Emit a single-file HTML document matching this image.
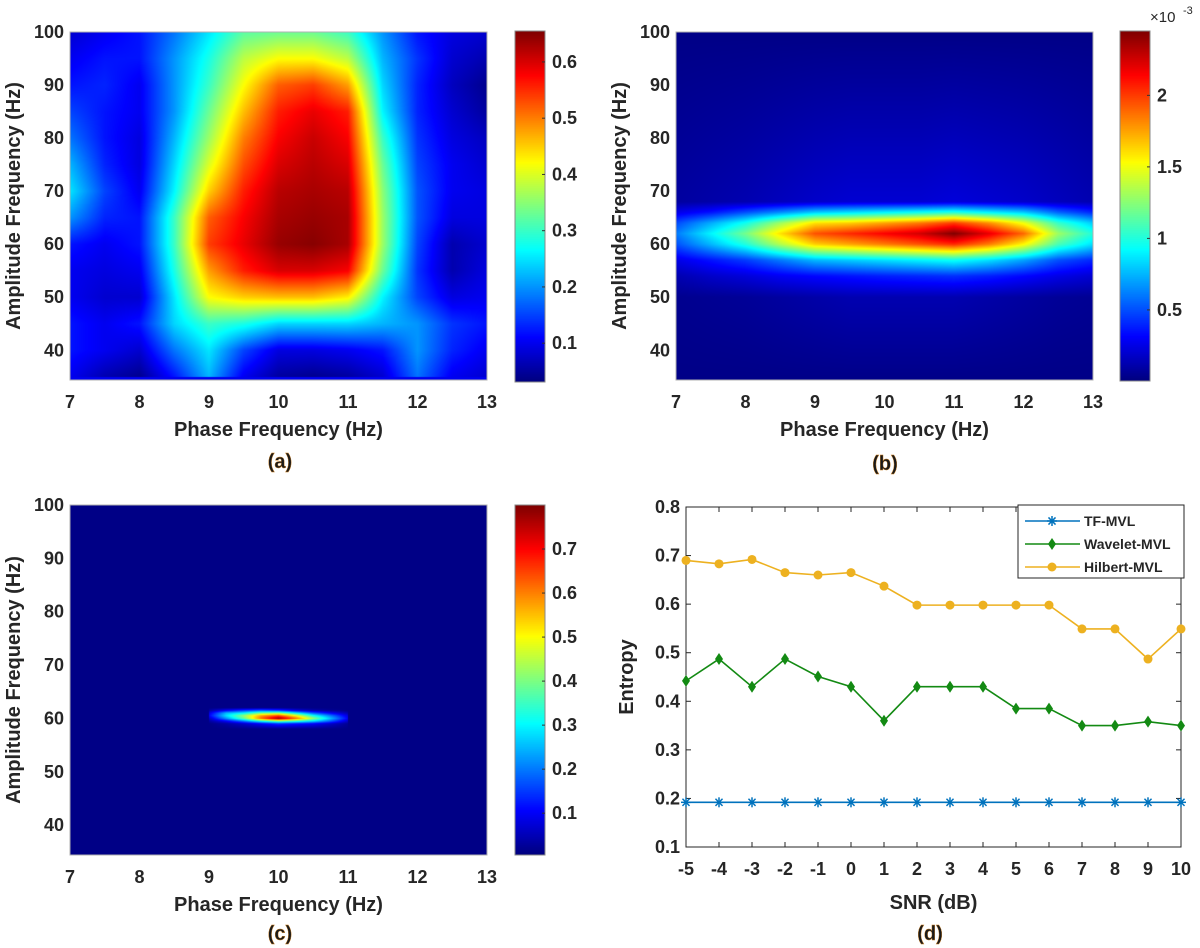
<!DOCTYPE html>
<html><head><meta charset="utf-8">
<style>
html,body{margin:0;padding:0;background:#fff;}
#wrap{position:relative;width:1200px;height:948px;overflow:hidden;font-family:"Liberation Sans",sans-serif;}
canvas{position:absolute;}
svg{position:absolute;left:0;top:0;}
</style></head>
<body>
<div id="wrap">
<canvas id="ca" width="417" height="348" style="left:70px;top:32px"></canvas>
<canvas id="cba" width="30" height="351" style="left:515px;top:31px"></canvas>
<canvas id="cb" width="417" height="348" style="left:676px;top:32px"></canvas>
<canvas id="cbb" width="30" height="350" style="left:1120px;top:31px"></canvas>
<canvas id="cc" width="417" height="350" style="left:70px;top:505px"></canvas>
<canvas id="cbc" width="30" height="350" style="left:515px;top:505px"></canvas>
<svg id="s" width="1200" height="948"></svg>
</div>
<script>
// ---------- data ----------
const aX=[7,7.5,8,8.5,9,9.5,10,10.5,11,11.5,12,12.5,13];
const aY=[100,95,90,85,80,75,70,65,60,55,50,45,40,35];
const aV=[
[0.08,0.10,0.12,0.18,0.25,0.32,0.33,0.33,0.30,0.20,0.12,0.09,0.08],
[0.10,0.12,0.12,0.20,0.28,0.38,0.42,0.42,0.38,0.22,0.14,0.08,0.06],
[0.12,0.13,0.10,0.20,0.30,0.42,0.52,0.54,0.48,0.24,0.13,0.07,0.04],
[0.15,0.12,0.10,0.20,0.33,0.46,0.56,0.59,0.56,0.26,0.13,0.08,0.05],
[0.18,0.12,0.09,0.22,0.36,0.50,0.58,0.61,0.58,0.30,0.14,0.09,0.07],
[0.22,0.13,0.09,0.24,0.40,0.53,0.60,0.62,0.60,0.33,0.15,0.10,0.08],
[0.25,0.15,0.10,0.26,0.45,0.56,0.62,0.63,0.62,0.35,0.16,0.10,0.09],
[0.20,0.13,0.12,0.30,0.52,0.58,0.63,0.64,0.63,0.36,0.16,0.09,0.09],
[0.12,0.10,0.12,0.30,0.54,0.59,0.64,0.65,0.63,0.36,0.15,0.06,0.08],
[0.10,0.09,0.10,0.28,0.48,0.56,0.60,0.60,0.58,0.33,0.14,0.06,0.09],
[0.10,0.08,0.08,0.25,0.42,0.45,0.46,0.46,0.43,0.26,0.15,0.09,0.10],
[0.12,0.10,0.12,0.24,0.30,0.28,0.24,0.24,0.24,0.22,0.20,0.14,0.12],
[0.12,0.10,0.08,0.18,0.25,0.15,0.09,0.09,0.10,0.12,0.20,0.13,0.10],
[0.10,0.06,0.04,0.12,0.22,0.10,0.05,0.04,0.05,0.08,0.18,0.10,0.08]];
const bX=[7,7.5,8,8.5,9,9.5,10,10.5,11,11.5,12,12.5,13];
const bY=[100,68,66,64,62,60,57,54,50,34];
const bV=[
[0.02,0.02,0.02,0.02,0.02,0.02,0.02,0.02,0.02,0.02,0.02,0.02,0.02],
[0.08,0.10,0.12,0.15,0.18,0.20,0.20,0.20,0.22,0.20,0.18,0.15,0.12],
[0.25,0.35,0.50,0.65,0.80,0.85,0.90,0.95,1.00,0.90,0.80,0.55,0.40],
[0.48,0.72,0.96,1.30,1.60,1.65,1.75,1.85,2.00,1.80,1.50,1.05,0.80],
[0.60,0.90,1.20,1.60,1.95,2.05,2.15,2.25,2.45,2.20,1.90,1.30,1.00],
[0.50,0.75,1.00,1.35,1.65,1.75,1.85,1.95,2.05,1.85,1.55,1.10,0.85],
[0.25,0.35,0.45,0.60,0.75,0.80,0.85,0.90,0.95,0.85,0.70,0.50,0.40],
[0.12,0.18,0.22,0.28,0.32,0.35,0.38,0.40,0.42,0.38,0.32,0.25,0.20],
[0.04,0.05,0.06,0.08,0.10,0.12,0.12,0.12,0.12,0.10,0.08,0.06,0.05],
[0.02,0.02,0.02,0.02,0.02,0.02,0.02,0.02,0.02,0.02,0.02,0.02,0.02]];
const cX=[9,9.25,9.5,9.75,10,10.25,10.5,10.75,11];
const cY=[62,61.5,61,60.5,60,59.5,59,58];
const cV=[
[0.01,0.01,0.01,0.01,0.01,0.01,0.01,0.01,0.01],
[0.03,0.10,0.15,0.18,0.15,0.08,0.04,0.02,0.01],
[0.08,0.25,0.30,0.40,0.42,0.30,0.18,0.10,0.04],
[0.10,0.28,0.42,0.58,0.65,0.50,0.32,0.20,0.08],
[0.06,0.22,0.38,0.62,0.78,0.62,0.42,0.25,0.10],
[0.03,0.10,0.20,0.32,0.40,0.35,0.28,0.18,0.06],
[0.01,0.03,0.06,0.10,0.14,0.12,0.10,0.06,0.02],
[0.01,0.01,0.01,0.01,0.01,0.01,0.01,0.01,0.01]];
const snr=[-5,-4,-3,-2,-1,0,1,2,3,4,5,6,7,8,9,10];
const tfMVL=[0.192,0.192,0.192,0.192,0.192,0.192,0.192,0.192,0.192,0.192,0.192,0.192,0.192,0.192,0.192,0.192];
const waveletMVL=[0.442,0.487,0.43,0.487,0.451,0.43,0.36,0.43,0.43,0.43,0.385,0.385,0.35,0.35,0.358,0.35];
const hilbertMVL=[0.69,0.683,0.692,0.665,0.66,0.665,0.637,0.598,0.598,0.598,0.598,0.598,0.549,0.549,0.487,0.549];
const hzTicks=[40,50,60,70,80,90,100];
const phTicks=[7,8,9,10,11,12,13];
const cbaTicks=[0.1,0.2,0.3,0.4,0.5,0.6];
const cbbTicks=[0.5,1,1.5,2];
const cbcTicks=[0.1,0.2,0.3,0.4,0.5,0.6,0.7];
const entTicks=[0.1,0.2,0.3,0.4,0.5,0.6,0.7,0.8];

// ---------- helpers ----------
function jet(t){t=Math.max(0,Math.min(1,t));
 const r=Math.max(0,Math.min(1,1.5-Math.abs(4*t-3)));
 const g=Math.max(0,Math.min(1,1.5-Math.abs(4*t-2)));
 const b=Math.max(0,Math.min(1,1.5-Math.abs(4*t-1)));
 return [r*255,g*255,b*255];}
function idx(arr,v){
 const asc=arr[arr.length-1]>arr[0];
 for(let i=0;i<arr.length-1;i++){const a=arr[i],b=arr[i+1];
  if(asc?(v>=a&&v<=b):(v<=a&&v>=b)) return [i,(v-a)/(b-a)];}
 return null;}
function sample(xs,ys,V,x,y,bg){const ix=idx(xs,x),iy=idx(ys,y);if(!ix||!iy)return bg;
 const [i,fx]=ix,[j,fy]=iy;
 const v00=V[j][i],v01=V[j][i+1],v10=V[j+1][i],v11=V[j+1][i+1];
 return (v00*(1-fx)+v01*fx)*(1-fy)+(v10*(1-fx)+v11*fx)*fy;}
function drawHeat(id,xs,ys,V,ymin,vmin,vmax,bg){
 const c=document.getElementById(id),ctx=c.getContext('2d'),W=c.width,H=c.height;
 const im=ctx.createImageData(W,H);
 for(let py=0;py<H;py++){const y=100-(py+0.5)/H*(100-ymin);
  for(let px=0;px<W;px++){const x=7+(px+0.5)/W*6;
   const v=sample(xs,ys,V,x,y,bg);const col=jet((v-vmin)/(vmax-vmin));
   const k=(py*W+px)*4;im.data[k]=col[0];im.data[k+1]=col[1];im.data[k+2]=col[2];im.data[k+3]=255;}}
 ctx.putImageData(im,0,0);}
function drawBar(id){const c=document.getElementById(id),ctx=c.getContext('2d');
 for(let py=0;py<c.height;py++){const col=jet(1-py/(c.height-1));
  ctx.fillStyle=`rgb(${col[0]|0},${col[1]|0},${col[2]|0})`;ctx.fillRect(0,py,c.width,1);}}
drawHeat('ca',aX,aY,aV,34.4,0.031,0.655,0.1);
drawHeat('cb',bX,bY,bV,34.4,0.003,2.45,0.02);
drawHeat('cc',cX,cY,cV,34.4,0.005,0.8,0.01);
drawBar('cba');drawBar('cbb');drawBar('cbc');

const NS='http://www.w3.org/2000/svg',S=document.getElementById('s');
function el(tag,attrs,parent,text){const e=document.createElementNS(NS,tag);
 for(const k in attrs)e.setAttribute(k,attrs[k]);if(text!==undefined)e.textContent=text;(parent||S).appendChild(e);return e;}
const TXT={fill:'#262626','font-family':'Liberation Sans, sans-serif','font-weight':'bold'};
function txt(x,y,s,size,anchor,name,extra){const e=el('text',Object.assign({x:x,y:y,'font-size':size,'text-anchor':anchor},TXT,extra||{}),S,s);
 
 return e;}

function heatAxes(px,py,w,h,ymin,cbx,cbTicks,cbmin,cbmax,cbtop,cbh,label,lx,ly,tag){
 const g=el('g',{});
 
 
 el('rect',{x:px,y:py,width:w,height:h,fill:'none',stroke:'#b0b0b0','stroke-width':1},g);
 const sx=v=>px+(v-7)/6*w, sy=v=>py+(100-v)/(100-ymin)*h;
 phTicks.forEach(t=>{txt(sx(t),py+h+28,String(t),18,'middle','x-tick-label');});
 hzTicks.forEach(t=>{txt(px-6,sy(t)+6,String(t),18,'end','y-tick-label');});
 txt(px+w/2,py+h+56,'Phase Frequency (Hz)',20,'middle','x-axis-title');
 const yt=txt(0,0,'Amplitude Frequency (Hz)',20,'middle','y-axis-title');
 yt.setAttribute('transform',`translate(${px-50},${py+h/2}) rotate(-90)`);
 el('rect',{x:cbx,y:cbtop,width:30,height:cbh,fill:'none',stroke:'#888','stroke-width':1},g);
 const cy=v=>cbtop+cbh-(v-cbmin)/(cbmax-cbmin)*cbh;
 cbTicks.forEach(t=>{el('line',{x1:cbx+27,x2:cbx+30,y1:cy(t),y2:cy(t),stroke:'#333'},g);
  txt(cbx+37,cy(t)+6,String(t),18,'start','colorbar-tick-label');});
 const L=el('text',{x:lx,y:ly,'font-size':20,'text-anchor':'middle','font-weight':'bold','font-family':'Liberation Sans, sans-serif',fill:'#1a1a1a',stroke:'#c87a1a','stroke-width':0.4},S,label);
 
 
}
heatAxes(70,32,417,348,34.4,515,cbaTicks,0.031,0.655,31,351,'(a)',280,468,'a');
heatAxes(676,32,417,348,34.4,1120,cbbTicks,0.003,2.45,31,350,'(b)',885,470,'b');
heatAxes(70,505,417,350,34.4,515,cbcTicks,0.005,0.8,505,350,'(c)',280,940,'c');
txt(1150,22,'\u00d710',15,'start','colorbar-exponent',{'font-weight':'normal'});
txt(1183,14,'-3',11,'start','colorbar-exponent-power',{'font-weight':'normal'});

// ---------- panel d ----------
const dx0=686,dx1=1181,dy0=507,dy1=847;
const sxD=v=>dx0+(v+5)/15*(dx1-dx0), syD=v=>dy1-(v-0.1)/0.7*(dy1-dy0);
const gd=el('g',{});


el('rect',{x:dx0,y:dy0,width:dx1-dx0,height:dy1-dy0,fill:'#fff',stroke:'#262626','stroke-width':1},gd);
snr.forEach(t=>{el('line',{x1:sxD(t),x2:sxD(t),y1:dy1,y2:dy1-5,stroke:'#262626'},gd);
 el('line',{x1:sxD(t),x2:sxD(t),y1:dy0,y2:dy0+5,stroke:'#262626'},gd);
 txt(sxD(t),dy1+28,String(t),18,'middle','x-tick-label');});
entTicks.forEach(t=>{el('line',{x1:dx0,x2:dx0+5,y1:syD(t),y2:syD(t),stroke:'#262626'},gd);
 el('line',{x1:dx1,x2:dx1-5,y1:syD(t),y2:syD(t),stroke:'#262626'},gd);
 txt(dx0-6,syD(t)+6,String(t),18,'end','y-tick-label');});
txt((dx0+dx1)/2,dy1+62,'SNR (dB)',20,'middle','x-axis-title');
const ydt=txt(0,0,'Entropy',20,'middle','y-axis-title');
ydt.setAttribute('transform',`translate(${dx0-53},${(dy0+dy1)/2}) rotate(-90)`);
const dl=el('text',{x:930,y:940,'font-size':20,'text-anchor':'middle','font-weight':'bold','font-family':'Liberation Sans, sans-serif',fill:'#1a1a1a',stroke:'#c87a1a','stroke-width':0.4},S,'(d)');



function marker(type,x,y,color,parent){
 if(type==='star'){const g=el('g',{stroke:color,'stroke-width':1.5},parent);
  for(let a=0;a<180;a+=45){const r=a*Math.PI/180;el('line',{x1:x-5*Math.cos(r),y1:y-5*Math.sin(r),x2:x+5*Math.cos(r),y2:y+5*Math.sin(r)},g);}return g;}
 if(type==='diamond')return el('polygon',{points:`${x},${y-6} ${x+4},${y} ${x},${y+6} ${x-4},${y}`,fill:color},parent);
 return el('circle',{cx:x,cy:y,r:4.5,fill:color},parent);}
const series=[['tf-mvl',tfMVL,'#0072BD','star','TF-MVL'],['wavelet-mvl',waveletMVL,'#138a13','diamond','Wavelet-MVL'],['hilbert-mvl',hilbertMVL,'#EDB120','circle','Hilbert-MVL']];
series.forEach(([nm,vals,col,mk])=>{
 const g=el('g',{});
 
 
 const p=el('polyline',{points:vals.map((v,i)=>sxD(snr[i])+','+syD(v)).join(' '),fill:'none',stroke:col,'stroke-width':1.6},g);
 
 
 vals.forEach((v,i)=>{const m=marker(mk,sxD(snr[i]),syD(v),col,g);
  
  });
});
// legend
const lg=el('g',{});


el('rect',{x:1018,y:505,width:166,height:73,fill:'#fff',stroke:'#262626','stroke-width':1},lg);
series.forEach(([nm,vals,col,mk,lab],i)=>{const y=521+i*23;
 const g=el('g',{},lg);
 
 
 el('line',{x1:1025,x2:1080,y1:y,y2:y,stroke:col,'stroke-width':1.6},g);
 marker(mk,1052,y,col,g);
 el('text',Object.assign({x:1084,y:y+5,'font-size':14},TXT),g,lab);});
</script>
</body></html>
